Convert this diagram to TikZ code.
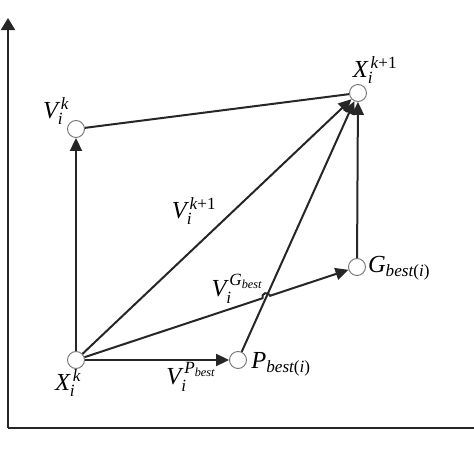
\documentclass[tikz,border=0pt]{standalone}
\usepackage{amsmath}
\usepackage{fontspec}
\setmainfont{Liberation Serif}
\usetikzlibrary{arrows.meta,calc}
\newcommand{\tx}[1]{\text{\itshape #1}}
\begin{document}
\begin{tikzpicture}[x=1pt,y=-1pt,
  pt/.style={circle,draw=black!55,line width=0.9pt,fill=white,minimum size=17pt,inner sep=0pt},
  seg/.style={draw=black!85,line width=2pt},
  vec/.style={seg,-{Triangle[length=13pt,width=12pt]}},
  lab/.style={font=\fontsize{24.5}{28}\selectfont,inner sep=0pt}]
\useasboundingbox (0,0) rectangle (474,474);
% axes
\coordinate (o) at (8,428);
\coordinate (ytop) at (8,18);
\coordinate (xend) at (474,428);
\draw[seg,-{Triangle[length=12pt,width=14pt]}] (o) -- (ytop);
\draw[seg] (o) -- (xend);
% points
\node[pt] (xk) at (76,360) {};
\node[pt] (vk) at (76,129) {};
\node[pt] (xk1) at (358,93) {};
\node[pt] (gb) at (357,267) {};
\node[pt] (pb) at (238,360) {};
% connectors
\draw[vec] (xk) -- (vk);
\draw[seg] (vk) -- (xk1);
\draw[vec] (xk) -- (xk1);
\draw[vec] (pb) -- (xk1);
\draw[vec] (gb) -- (xk1);
\draw[vec] (xk) -- (pb);
\coordinate (cr) at (intersection of xk--gb and pb--xk1);
\coordinate (h1) at ($(cr)!4pt!(xk)$);
\coordinate (h2) at ($(cr)!4pt!(gb)$);
\draw[vec] (xk) -- (h1) .. controls ($(h1)!5.3pt!90:(cr)$) and ($(h2)!5.3pt!-90:(cr)$) .. (h2) -- (gb);
% labels
\node[lab] (lvk) at (56,111) {$\tx{V}_{\tx{i}}^{\,\tx{k}}$};
\node[lab] (lxk1) at (375,70) {$\tx{X}_{\tx{i}}^{\,\text{\itshape k\upshape +1}}$};
\node[lab] (lv1) at (194,211) {$\tx{V}_{\tx{i}}^{\,\text{\itshape k\upshape +1}}$};
\node[lab] (lgb) at (399,268) {$\tx{G}_{\text{\itshape best\upshape(\itshape i\upshape)}}$};
\node[lab] (lvg) at (237,289) {$\tx{V}_{\tx{i}}^{\,\tx{G}_{\tx{best}}}$};
\node[lab] (lxk) at (68,383) {$\tx{X}_{\tx{i}}^{\,\tx{k}}$};
\node[lab] (lvp) at (191,377) {$\tx{V}_{\tx{i}}^{\,\tx{P}_{\tx{best}}}$};
\node[lab] (lpb) at (281,364) {$\tx{P}_{\text{\itshape best\upshape(\itshape i\upshape)}}$};
\end{tikzpicture}
\end{document}
